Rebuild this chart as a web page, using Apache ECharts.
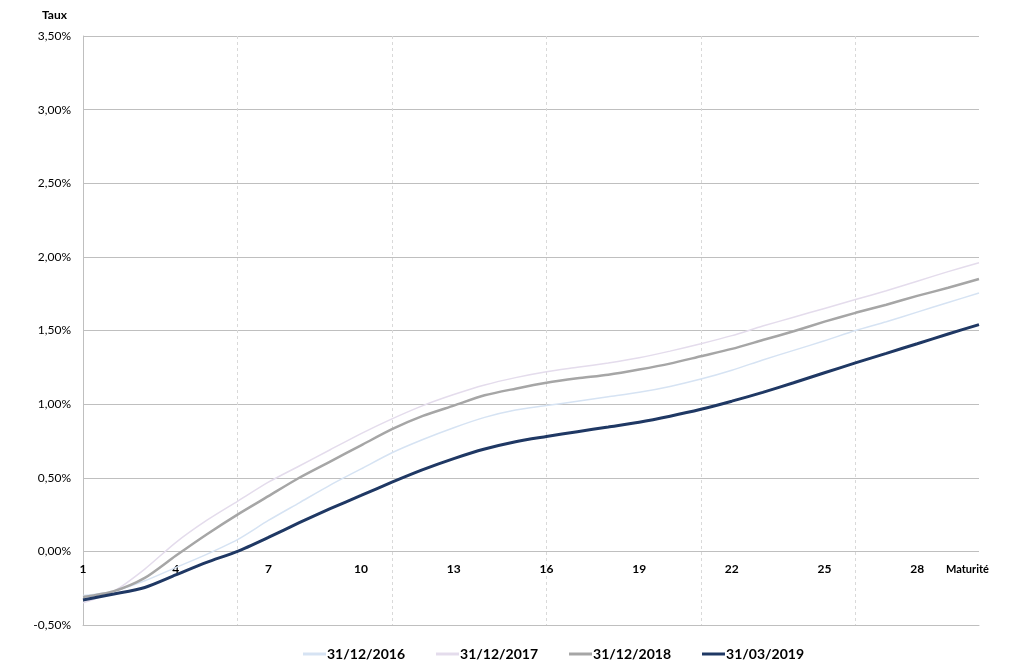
<!DOCTYPE html>
<html>
<head>
<meta charset="utf-8">
<script src="https://cdn.jsdelivr.net/npm/echarts@6/dist/echarts.min.js"></script>
<style>html,body{margin:0;padding:0;background:#fff}#c{width:1024px;height:668px}</style>
</head>
<body>
<div id="c"></div>
<script>
const maturities = Array.from({length:30},(_,i)=>String(i+1));
const seriesNames = ['31/12/2016','31/12/2017','31/12/2018','31/03/2019'];
const s2016 = [-0.30,-0.27,-0.20,-0.11,-0.02,0.08,0.21,0.33,0.45,0.56,0.67,0.76,0.84,0.91,0.96,0.99,1.02,1.05,1.08,1.12,1.17,1.23,1.30,1.365,1.43,1.50,1.56,1.625,1.69,1.755];
const s2017 = [-0.35,-0.27,-0.12,0.06,0.21,0.34,0.47,0.58,0.69,0.80,0.90,0.99,1.065,1.13,1.18,1.22,1.25,1.28,1.315,1.36,1.41,1.465,1.53,1.59,1.65,1.71,1.77,1.835,1.90,1.96];
const s2018 = [-0.31,-0.27,-0.18,-0.03,0.115,0.25,0.375,0.50,0.61,0.72,0.83,0.92,0.99,1.06,1.105,1.145,1.175,1.20,1.235,1.275,1.325,1.375,1.435,1.495,1.56,1.62,1.675,1.735,1.79,1.85];
const s2019 = [-0.33,-0.29,-0.245,-0.16,-0.075,0.0,0.095,0.195,0.29,0.38,0.47,0.555,0.63,0.695,0.745,0.78,0.813,0.845,0.877,0.918,0.965,1.02,1.08,1.145,1.213,1.28,1.345,1.41,1.476,1.54];
const yTicks = {min:-0.5, max:3.5, step:0.5};

const font = 'Lato, "Open Sans", sans-serif';
const chart = echarts.init(document.getElementById('c'));
const mk = (name, data, color, width, z) => ({
  name, type:'line', data, smooth:0.25, symbol:'none', showSymbol:false, z,
  lineStyle:{color, width}, itemStyle:{color}
});
chart.setOption({
  animation:false,
  grid:{left:83, right:45, top:36, bottom:43, containLabel:false},
  legend:{
    left:298, top:642, itemWidth:23, itemHeight:3, itemGap:31, icon:'rect',
    textStyle:{fontFamily:font, fontWeight:'bold', fontSize:14, color:'#000', padding:[0,0,0,-4]},
    data:seriesNames
  },
  graphic:[
    {type:'text', left:42, top:9, style:{text:'Taux', font:'bold 12px '+font, fill:'#000'}},
    {type:'text', left:946, top:564, style:{text:'Maturité', font:'bold 11px '+font, fill:'#000'}}
  ],
  xAxis:{
    type:'category', data:maturities, boundaryGap:false,
    axisLine:{onZero:false, lineStyle:{color:'#bfbfbf', width:1}},
    axisTick:{show:false},
    axisLabel:{interval:2, fontFamily:font, fontWeight:'bold', fontSize:12, color:'#000', margin:-62},
    splitLine:{show:true, interval:(i)=>i%5===0 && i>0, lineStyle:{color:'#d9d9d9', type:[3,3], width:1}}
  },
  yAxis:{
    type:'value', min:yTicks.min, max:yTicks.max, interval:yTicks.step,
    axisLine:{show:true, lineStyle:{color:'#bfbfbf', width:1}},
    axisTick:{show:false},
    axisLabel:{fontFamily:font, fontSize:12, color:'#000', margin:12,
      formatter:(v)=>v.toFixed(2).replace('.',',')+'%'},
    splitLine:{lineStyle:{color:'#bfbfbf', width:1}}
  },
  series:[
    mk(seriesNames[0], s2016, '#d6e3f3', 1.5, 2),
    mk(seriesNames[1], s2017, '#e4dcec', 1.5, 3),
    mk(seriesNames[2], s2018, '#a6a6a6', 2.5, 4),
    mk(seriesNames[3], s2019, '#1f3864', 3, 5)
  ]
});
</script>
</body>
</html>
